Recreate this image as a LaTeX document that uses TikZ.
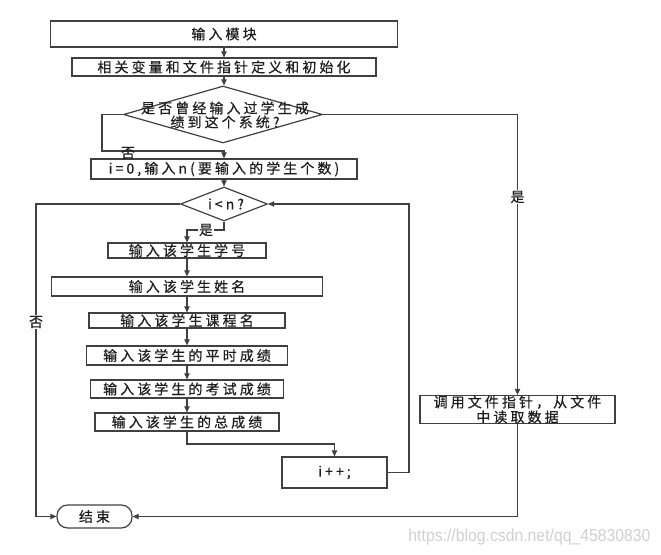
\documentclass[tikz,border=0pt]{standalone}
\usepackage{fontspec}
\setmainfont{Noto Sans CJK SC}
\newfontfamily\cjk[LetterSpace=22,FakeBold=0.5]{Noto Sans CJK SC}
\newfontfamily\wmfont{Liberation Sans}
\usetikzlibrary{shapes.geometric,arrows.meta}
\definecolor{lc}{HTML}{404040}
\definecolor{tc}{HTML}{1E1E1E}
\definecolor{wmc}{HTML}{D0D0D0}
\tikzset{
  sz/.style 2 args={minimum width=#1*0.75pt, minimum height=#2*0.75pt},
  box/.style={draw=lc, line width=0.9pt, inner sep=0pt, text=tc,
    font=\cjk\fontsize{10.5pt}{11.2pt}\selectfont},
  dia/.style={draw=lc, line width=0.9pt, diamond, inner sep=0pt},
  txt/.style={text=tc, inner sep=0.5pt, font=\cjk\fontsize{10.5pt}{10.5pt}\selectfont},
  ln/.style={draw=lc, line width=0.8pt},
  arr/.style={ln, -{Triangle[width=4pt,length=4.5pt]}},
}
\begin{document}
\begin{tikzpicture}[x=0.75pt,y=-0.75pt]
\useasboundingbox (0,0) rectangle (661,555);
% nodes
\node[box,sz={347}{26}] (b1) at (224,34) {输入模块};
\node[box,sz={304}{18}] (b2) at (224,67) {相关变量和文件指针定义和初始化};
\node[dia,sz={199}{57}] (d1) at (223,114.5) {};
\node[txt,align=center] (t1) at (225,115) {是否曾经输入过学生成\\绩到这个系统?};
\node[box,sz={266}{20}] (b3) at (224,169) {i=0,输入n(要输入的学生个数)};
\node[dia,sz={87}{34}] (d2) at (224,204) {};
\node[txt] (t2) at (226,204) {i<n?};
\node[box,sz={158}{15}] (b4) at (187,250.5) {输入该学生学号};
\node[box,sz={271}{19}] (b5) at (187,286.5) {输入该学生姓名};
\node[box,sz={196}{15}] (b6) at (187,320.5) {输入该学生课程名};
\node[box,sz={201}{19}] (b7) at (187,355.5) {输入该学生的平时成绩};
\node[box,sz={193}{18}] (b8) at (187,389) {输入该学生的考试成绩};
\node[box,sz={184}{18}] (b9) at (187,422) {输入该学生的总成绩};
\node[box,sz={105}{31}] (b10) at (334.5,472.5) {i++;};
\node[box,sz={195}{27},align=center] (b11) at (517.5,409.5) {调用文件指针，从文件\\中读取数据};
\node[box,sz={75}{23},rounded corners=8pt] (e) at (94.5,516.5) {结束};
% coordinates
\coordinate (c1) at (102,151);
\coordinate (c2) at (36,516.5);
\coordinate (c3) at (224,230);
\coordinate (c4) at (187,444);
\coordinate (c5) at (409,472.5);
% connectors
\draw[arr] (b1) -- (b2);
\draw[arr] (b2.south) -- (b2.south |- d1.north);
\draw[arr] (d1.west) -| (c1) -| (b3.north);
\draw[arr] (d1.east) -| (b11.north);
\draw[arr] (b3) -- (d2);
\draw[arr] (d2.west) -| (c2) -- (e.west);
\draw[arr] (d2.south) -- (c3) -| (b4.north);
\draw[arr] (b4) -- (b5);
\draw[arr] (b5) -- (b6);
\draw[arr] (b6) -- (b7);
\draw[arr] (b7) -- (b8);
\draw[arr] (b8) -- (b9);
\draw[arr] (b9.south) -- (c4) -| (b10.north);
\draw[arr] (b10.east) -- (c5) |- (d2.east);
\draw[arr] (b11.south) |- (e.east);
% labels
\node[txt] (l1) at (128,153) {否};
\node[txt,fill=white] (l2) at (517.5,197) {是};
\node[txt,fill=white] (l3) at (36,322) {否};
\node[txt,fill=white] (l4) at (206,230) {是};
% watermark
\node[text=wmc, inner sep=0pt, font=\wmfont\fontsize{13pt}{13pt}\selectfont] (wm) at (529.5,537) {\scalebox{0.91}[1]{https://blog.csdn.net/qq\_45830830}};
\end{tikzpicture}
\end{document}
